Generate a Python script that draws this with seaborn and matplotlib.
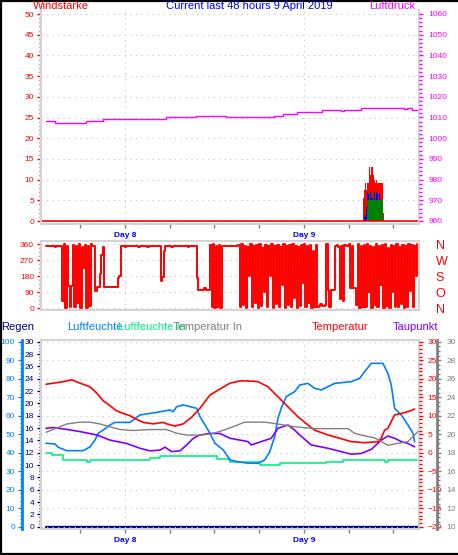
import numpy as np
import matplotlib
matplotlib.use('Agg')
import matplotlib.pyplot as plt
import seaborn as sb
from matplotlib.ticker import MultipleLocator
from matplotlib.lines import Line2D

sb.set_style('white')
plt.rcParams['font.family'] = ['Liberation Sans', 'DejaVu Sans']

# zeit in stunden ab Day 8 00:00
day_ticks = [0, 24]
day_labels = ['Day 8', 'Day 9']
six_hour_ticks = [-6, 6, 12, 18, 30, 36]

# Luftdruck (hPa)
press_hours = [-10.6, -9.4, -5.2, -2.9, 5.5, 9.5, 13.5, 20.0, 21.2, 23.1, 26.4, 29.0, 29.3, 31.6, 37.4, 37.8, 38.5, 39.2]
press_hpa = [1008.2, 1007.2, 1008.2, 1009.3, 1010.1, 1010.9, 1010.2, 1010.8, 1011.6, 1012.7, 1013.6, 1013.2,
             1013.6, 1014.4, 1014.0, 1014.4, 1013.8, 1013.8]

# Windstärke
wind_hours = [31.70, 31.85, 32.00, 32.15, 32.30, 32.45, 32.60, 32.75, 32.90, 33.05, 33.20,
              33.35, 33.50, 33.65, 33.80, 33.95, 34.10, 34.25, 34.40, 34.55, 34.70]
wind_gust = [0, 5.5, 7.5, 9.3, 7.5, 9.3, 9.3, 13, 11, 13, 11, 10, 9.3, 10, 9.3, 9.3, 9.3, 9.3, 9.3, 1.9, 0]
wind_avg = [0, 0, 1, 1.5, 3.5, 7, 6.5, 7, 7, 5.5, 7, 7, 5, 7, 6.5, 5, 6.5, 5, 5, 0, 0]
wind_low = [0, 0, 0, 0, 0, 5, 5, 7, 5, 5, 7, 5, 5, 5, 5, 5, 5, 5, 5, 0, 0]

# Windrichtung, ein wert alle 0.2 h ab -10.6 h (eine zeile = 2 h)
dir_start = -10.6
dir_step = 0.2
wind_dir = [
    350, 350, 348, 350, 350, 350, 346, 350, 350, 350,
    350, 40, 360, 0, 350, 124, 10, 124, 355, 5,
    350, 30, 360, 0, 345, 227, 355, 0, 350, 15,
    360, 350, 350, 96, 118, 118, 193, 300, 343, 118,
    118, 118, 118, 118, 118, 118, 118, 118, 171, 184,
    350, 350, 350, 346, 350, 350, 350, 350, 350, 350,
    350, 350, 346, 350, 350, 350, 350, 350, 346, 350,
    350, 350, 350, 350, 350, 350, 350, 156, 174, 320,
    350, 350, 350, 350, 346, 350, 350, 350, 350, 350,
    350, 350, 350, 350, 350, 346, 350, 350, 350, 350,
    350, 171, 105, 105, 105, 105, 112, 105, 105, 105,
    355, 10, 360, 0, 350, 5, 355, 0, 350, 350,
    350, 350, 350, 350, 350, 350, 350, 350, 350, 355,
    10, 360, 20, 350, 0, 345, 180, 360, 5, 350,
    30, 355, 0, 360, 15, 340, 90, 355, 5, 350,
    180, 360, 0, 350, 25, 355, 10, 345, 130, 360,
    0, 350, 20, 355, 5, 360, 60, 350, 0, 345,
    15, 355, 140, 360, 5, 350, 30, 355, 0, 320,
    10, 355, 5, 15, 25, 15, 15, 20, 360, 105,
    10, 105, 105, 105, 350, 355, 345, 50, 350, 40,
    355, 350, 348, 360, 114, 350, 114, 114, 20, 360,
    0, 350, 10, 355, 5, 360, 90, 350, 0, 345,
    20, 360, 5, 350, 130, 355, 0, 360, 15, 340,
    0, 355, 90, 350, 10, 360, 5, 345, 25, 355,
    0, 350, 10, 360, 100, 355, 5, 350, 180, 360,
]
compass = ['N', 'O', 'S', 'W', 'N']

# Temperatur (°C)
temp_hours = [-10.59, -8.27, -7.14, -6.03, -4.69, -3.79, -2.91, -2.01, -1.11, -0.23, 0.67, 1.57, 2.45, 3.79,
              5.13, 5.59, 6.70, 7.81, 8.94, 10.05, 11.39, 12.73, 14.08, 15.42, 16.49, 17.83, 19.17, 20.51,
              21.85, 23.19, 24.53, 25.43, 27.21, 30.34, 32.13, 33.91, 34.36, 34.81, 35.25, 36.15, 37.04,
              37.94, 38.83]
temp_c = [18.5, 19.2, 19.7, 18.8, 17.8, 16.1, 14.0, 12.7, 11.3, 10.6, 10.0, 9.0, 8.2, 7.8, 8.2, 7.8, 7.2,
          7.8, 9.6, 12.0, 15.6, 17.2, 18.8, 19.4, 19.4, 19.2, 17.8, 15.1, 12.4, 9.7, 7.5, 6.1, 4.8, 3.0,
          2.7, 3.0, 3.9, 6.1, 6.6, 10.2, 10.6, 11.1, 11.8]

# Taupunkt (°C)
dew_hours = [-10.59, -9.61, -7.82, -6.03, -3.79, -2.01, 0.23, 2.01, 3.35, 4.69, 5.36, 6.26, 7.37, 8.27,
             9.16, 10.05, 11.39, 12.73, 14.08, 15.42, 16.49, 16.93, 18.27, 19.61, 20.51, 21.85, 22.75,
             23.42, 24.97, 27.21, 30.34, 31.68, 33.02, 34.36, 35.25, 36.15, 37.04, 37.94, 38.83]
dew_c = [6.6, 6.8, 6.3, 5.7, 4.8, 3.4, 2.5, 1.2, 0.5, 0.7, 1.5, 0.3, 0.5, 2.1, 3.9, 4.8, 5.2, 5.2, 3.9,
         3.4, 3.0, 2.1, 3.0, 3.9, 6.6, 7.5, 6.1, 4.8, 2.1, 1.2, -0.4, -0.2, 0.9, 3.4, 4.5, 3.9, 3.0,
         2.5, 1.6]

# Temperatur In (°C)
tin_hours = [-10.59, -7.82, -6.03, -4.69, -3.35, -2.01, -0.67, 1.11, 3.35, 5.59, 6.93, 8.27, 10.05, 11.39,
             12.73, 13.81, 16.05, 18.73, 20.51, 22.75, 25.43, 29.89, 30.79, 31.68, 33.47, 34.36, 35.25,
             36.60, 37.94, 38.83, 39.28]
tin_c = [20.2, 21.1, 21.3, 21.3, 21.1, 20.8, 20.5, 20.4, 20.5, 20.5, 20.1, 19.9, 19.9, 20.0, 20.3, 20.6,
         21.3, 21.3, 21.1, 20.8, 20.6, 20.6, 20.1, 19.9, 19.6, 19.2, 18.8, 19.0, 19.2, 19.9, 20.3]

# Luftfeuchte (%)
hum_hours = [-10.59, -9.38, -8.94, -7.82, -5.59, -4.69, -4.02, -3.58, -2.91, -2.01, -1.34, 0.67, 2.01,
             4.25, 6.03, 6.47, 6.93, 7.81, 9.61, 10.05, 10.72, 11.39, 12.06, 13.18, 14.08, 15.15, 16.49,
             17.83, 18.73, 19.40, 20.07, 20.51, 20.95, 21.62, 22.75, 23.42, 24.53, 25.43, 26.31, 28.11,
             30.34, 31.46, 32.13, 33.02, 34.58, 35.25, 35.70, 36.15, 37.04, 37.94, 38.61, 38.83]
hum_pct = [45.1, 44.7, 42.9, 41.1, 41.1, 43.2, 46.9, 50.5, 52.3, 55.0, 56.4, 56.4, 60.4, 61.8, 63.1, 62.2,
           64.9, 65.8, 64.0, 59.5, 55.0, 50.5, 45.1, 41.5, 36.1, 35.1, 34.3, 34.3, 36.1, 40.5, 48.6, 58.6,
           64.0, 70.3, 73.0, 76.6, 77.5, 74.8, 73.9, 77.5, 78.4, 80.2, 83.8, 88.3, 88.3, 82.9, 76.6, 64.0,
           60.4, 55.0, 50.5, 45.9]

# Luftfeuchte In (%)
hin_hours = [-10.59, -9.83, -8.27, -5.05, -4.69, 3.35, 4.69, 12.29, 14.08, 18.05, 20.74, 26.98, 29.22,
             34.81, 35.25, 39.2]
hin_pct = [39.7, 38.8, 35.9, 34.8, 35.9, 37.0, 38.4, 36.4, 35.1, 33.4, 34.3, 35.1, 36.1, 35.1, 36.1, 36.1]

# Regen (mm)
rain_hours = [-10.6, 39.2]
rain_mm = [0.0, 0.0]

# farben
ROT, MAGENTA, BLAU = '#FF0000', '#FF00FF', '#0000FF'
FEUCHTE, FEUCHTE_IN = '#0080FF', '#00F080'
GRAU, LILA, NAVY = '#808080', '#8000FF', '#000080'
RAHMEN, GITTER = '#D4D4D4', '#C4C4C4'

W, H = 458, 555
fig = plt.figure(figsize=(W / 100, H / 100), dpi=100)


def box(l, t, r, b):
    return [l / W, 1 - b / H, (r - l) / W, (b - t) / H]


def px2h(px):
    return (px - 125) / 7.458


XLIM = (px2h(41), px2h(419))


def rahmen(ax, seiten):
    for s, sp in ax.spines.items():
        sp.set_visible(s in seiten)
        sp.set_color(RAHMEN)
        sp.set_linewidth(1.5)


def gitter(ax, achse):
    ax.grid(axis=achse, which='major', color=GITTER, linestyle=(0, (1, 4)), linewidth=0.8)


def tage(ax):
    ax.set_xticks(day_ticks)
    ax.set_xticklabels(day_labels)
    ax.set_xticks(six_hour_ticks, minor=True)
    ax.tick_params(axis='x', which='both', bottom=True, length=3, width=1, color=GRAU, direction='out')
    ax.tick_params(axis='x', which='major', labelsize=6, labelcolor=BLAU, pad=3)
    for t in ax.get_xticklabels():
        t.set_fontweight('bold')


def y_ticks(ax, seite, farbe, major, minor, size=6, pad=2):
    ax.yaxis.set_major_locator(MultipleLocator(major))
    ax.yaxis.set_minor_locator(MultipleLocator(minor))
    opts = dict(left=(seite == 'left'), right=(seite == 'right'),
                labelleft=(seite == 'left'), labelright=(seite == 'right'))
    ax.tick_params(axis='y', which='both', colors=farbe, direction='out', width=1, **opts)
    ax.tick_params(axis='y', which='major', length=3, labelsize=size, pad=pad)
    ax.tick_params(axis='y', which='minor', length=1.8)


# ---------------- Windstärke / Luftdruck ----------------
ax1 = fig.add_axes(box(41, 10, 419, 224))
ax1r = ax1.twinx()
ax1.axhline(0, color=ROT, lw=1.2)
ax1.fill_between(wind_hours, wind_gust, step='post', color=ROT, lw=0)
ax1.fill_between(wind_hours, wind_avg, step='post', color=BLAU, lw=0)
ax1.fill_between(wind_hours, wind_low, step='post', color='#008000', lw=0)
sb.lineplot(x=press_hours, y=press_hpa, ax=ax1r, color=MAGENTA, drawstyle='steps-post',
            lw=1, estimator=None)
ax1.set_xlim(XLIM)
ax1.set_ylim(-0.72, 50.97)
ax1r.set_ylim(958.55, 1061.93)
rahmen(ax1, ['left', 'bottom', 'right'])
rahmen(ax1r, [])
gitter(ax1, 'y')
gitter(ax1, 'x')
tage(ax1)
y_ticks(ax1, 'left', ROT, 5, 1)
y_ticks(ax1r, 'right', MAGENTA, 10, 2, pad=4)

# ---------------- Windrichtung ----------------
ax2 = fig.add_axes(box(41, 241, 419, 310))
dir_hours = dir_start + dir_step * np.arange(len(wind_dir))
sb.lineplot(x=dir_hours, y=wind_dir, ax=ax2, color=ROT, drawstyle='steps-post', lw=1.4, estimator=None)
ax2.set_xlim(XLIM)
ax2.set_ylim(-9.6, 378.6)
rahmen(ax2, ['left', 'bottom', 'right', 'top'])
ax2.set_xticks(day_ticks)
ax2.tick_params(axis='x', bottom=False, labelbottom=False)
gitter(ax2, 'y')
gitter(ax2, 'x')
y_ticks(ax2, 'left', ROT, 90, 22.5)
ax2r = ax2.twinx()
ax2r.set_ylim(ax2.get_ylim())
ax2r.set_yticks([0, 90, 180, 270, 360])
ax2r.set_yticklabels(compass)
ax2r.tick_params(axis='y', right=True, length=0, pad=12, labelsize=9, labelcolor=ROT)
rahmen(ax2r, [])

# ---------------- Regen / Feuchte / Temperatur ----------------
ax3 = fig.add_axes(box(41, 340, 419, 529))
hum = ax3.twinx()
temp = ax3.twinx()
tin = ax3.twinx()

sb.lineplot(x=rain_hours, y=rain_mm, ax=ax3, color='#0000A0', lw=2.4, estimator=None)
sb.lineplot(x=tin_hours, y=tin_c, ax=tin, color=GRAU, lw=1, estimator=None)
sb.lineplot(x=hin_hours, y=hin_pct, ax=hum, color=FEUCHTE_IN, drawstyle='steps-post', lw=1.2, estimator=None)
sb.lineplot(x=hum_hours, y=hum_pct, ax=hum, color=FEUCHTE, lw=1.2, estimator=None)
sb.lineplot(x=dew_hours, y=dew_c, ax=temp, color=LILA, lw=1.2, estimator=None)
sb.lineplot(x=temp_hours, y=temp_c, ax=temp, color=ROT, lw=1.2, estimator=None)

ax3.set_xlim(XLIM)
ax3.set_ylim(-0.37, 30.28)
hum.set_ylim(-1.24, 100.92)
temp.set_ylim(-20.62, 30.46)
tin.set_ylim(9.75, 30.18)

rahmen(ax3, ['left', 'bottom', 'right', 'top'])
rahmen(hum, ['left'])
hum.spines['left'].set_position(('axes', (22 - 41) / 378))
hum.spines['left'].set_color(FEUCHTE)
hum.spines['left'].set_linewidth(2)
hum.yaxis.set_ticks_position('left')
rahmen(temp, [])
rahmen(tin, ['right'])
tin.spines['right'].set_position(('axes', 1 + (437 - 419) / 378))
tin.spines['right'].set_color(GRAU)
tin.spines['right'].set_linewidth(2)

gitter(hum, 'y')
gitter(ax3, 'x')
tage(ax3)
y_ticks(ax3, 'left', NAVY, 2, 0.5)
y_ticks(hum, 'left', FEUCHTE, 10, 2)
y_ticks(temp, 'right', ROT, 5, 1, pad=3)
y_ticks(tin, 'right', GRAU, 2, 0.5, pad=4)

for a in (ax1, ax1r, ax2, ax2r, ax3, hum, temp, tin):
    a.set_xlabel('')
    a.set_ylabel('')

# ---------------- Beschriftung ----------------
def kopf(x, y, text, farbe, ha='left'):
    fig.text(x / W, 1 - y / H, text, color=farbe, fontsize=8, ha=ha, va='center')


kopf(33, 6, 'Windstärke', ROT)
kopf(249, 6, 'Current last 48 hours 9 April 2019', BLAU, ha='center')
kopf(415, 6, 'Luftdruck', MAGENTA, ha='right')
kopf(1, 327, 'Regen', NAVY)
kopf(67, 327, 'Luftfeuchte', FEUCHTE)
kopf(118, 327, 'Luftfeuchte In', FEUCHTE_IN)
kopf(173, 327, 'Temperatur In', GRAU)
kopf(312, 327, 'Temperatur', ROT)
kopf(393, 327, 'Taupunkt', LILA)

# schwarzer rand
for xs, ys in (([0.5 / W, 0.5 / W], [0, 1]), ([0, 1], [1 - 0.5 / H, 1 - 0.5 / H]),
               ([0, 1], [1.5 / H, 1.5 / H])):
    fig.add_artist(Line2D(xs, ys, transform=fig.transFigure, color='black', lw=1.6))

plt.savefig('out.png', dpi=100)
